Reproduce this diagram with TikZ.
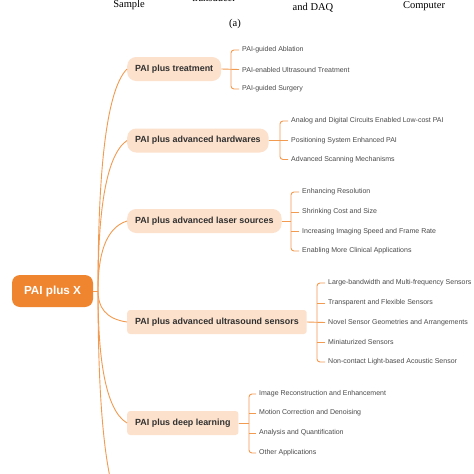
\documentclass[tikz,border=0pt]{standalone}
\usepackage{fontspec}
\setmainfont{Liberation Sans}
\newfontfamily\serifcap{Liberation Serif}
\definecolor{lineor}{HTML}{F29B50}
\definecolor{rootor}{HTML}{F0852F}
\definecolor{peach}{HTML}{FCE1CC}
\definecolor{topic}{HTML}{303030}
\definecolor{itemtx}{HTML}{4A4A4A}
\tikzset{
 rootbox/.style={fill=rootor, rounded corners=8pt, minimum width=81pt, minimum height=32pt, text=white, font=\fontsize{11.7}{13}\selectfont\bfseries, inner sep=0pt},
 topicbox/.style={fill=peach, rounded corners=9pt, minimum height=24pt, inner xsep=8pt, inner ysep=0pt, text=topic, font=\fontsize{8.9}{10}\selectfont\bfseries, anchor=west},
 squarish/.style={rounded corners=3pt},
 itemtext/.style={anchor=west, inner xsep=3pt, inner ysep=1pt, text=itemtx, font=\fontsize{7}{8}\selectfont},
 branch/.style={draw=lineor, line width=0.9pt},
 bracket/.style={draw=lineor, line width=0.9pt, rounded corners=3pt},
 capt/.style={font=\serifcap\fontsize{10.5}{12}\selectfont, text=black, inner sep=0pt, anchor=base},
}
\begin{document}
\begin{tikzpicture}[x=1pt,y=-1pt]
\useasboundingbox (0,0) rectangle (474,474);
\clip (0,0) rectangle (474,474);
\fill[white] (0,0) rectangle (474,474);
% caption remnants of the figure above
\node[capt] (c1) at (129,7) {Sample};
\node[capt] (c2) at (214,1.5) {transducer};
\node[capt] (c3) at (313,10) {and DAQ};
\node[capt] (c4) at (424,8.5) {Computer};
\node[capt] (c5) at (235,26.5) {(a)};
% root
\node[rootbox] (root) at (52.5,291) {PAI plus X};
\coordinate (hub) at (98,291);
% topics
\node[topicbox] (T) at (127,69) {PAI plus treatment};
\node[topicbox] (H) at (127,140.5) {PAI plus advanced hardwares};
\node[topicbox] (L) at (127,221) {PAI plus advanced laser sources};
\node[topicbox,squarish] (U) at (127,322) {PAI plus advanced ultrasound sensors};
\node[topicbox,squarish] (D) at (127,423) {PAI plus deep learning};
\coordinate (N) at (127,520);
% branches
\draw[branch] (root.east) -- (hub);
\draw[branch] (hub) .. controls (98,180) and (105,91.2) .. (T.west);
\draw[branch] (hub) .. controls (98,215.75) and (105,155.5) .. (H.west);
\draw[branch] (hub) .. controls (98,256) and (105,228) .. (L.west);
\draw[branch] (hub) .. controls (98,306.5) and (105,318.9) .. (U.west);
\draw[branch] (hub) .. controls (98,357) and (105,409.8) .. (D.west);
\draw[branch] (hub) .. controls (98,405.5) and (105,497) .. (N);
% treatment items
\node[itemtext] (T1) at (239,50) {PAI-guided Ablation};
\node[itemtext] (T2) at (239,69.5) {PAI-enabled Ultrasound Treatment};
\node[itemtext] (T3) at (239,89) {PAI-guided Surgery};
\draw[branch] (T.east) -- (T2.west);
\draw[bracket] (T1.west) -- (231,50) -- (231,89) -- (T3.west);
% hardware items
\node[itemtext] (H1) at (288,121) {Analog and Digital Circuits Enabled Low-cost PAI};
\node[itemtext] (H2) at (288,140.5) {Positioning System Enhanced PAI};
\node[itemtext] (H3) at (288,159.5) {Advanced Scanning Mechanisms};
\draw[branch] (H.east) -- (H2.west);
\draw[bracket] (H1.west) -- (280,121) -- (280,159.5) -- (H3.west);
% laser items
\node[itemtext] (L1) at (299,192) {Enhancing Resolution};
\node[itemtext] (L2) at (299,212) {Shrinking Cost and Size};
\node[itemtext] (L3) at (299,231.5) {Increasing Imaging Speed and Frame Rate};
\node[itemtext] (L4) at (299,251) {Enabling More Clinical Applications};
\draw[branch] (L.east) -- (291,221);
\draw[bracket] (L1.west) -- (291,192) -- (291,251) -- (L4.west);
\draw[branch] (291,212) -- (L2.west);
\draw[branch] (291,231.5) -- (L3.west);
% ultrasound items
\node[itemtext] (U1) at (325,283) {Large-bandwidth and Multi-frequency Sensors};
\node[itemtext] (U2) at (325,303) {Transparent and Flexible Sensors};
\node[itemtext] (U3) at (325,322.5) {Novel Sensor Geometries and Arrangements};
\node[itemtext] (U4) at (325,342) {Miniaturized Sensors};
\node[itemtext] (U5) at (325,362) {Non-contact Light-based Acoustic Sensor};
\draw[branch] (U.east) -- (U3.west);
\draw[bracket] (U1.west) -- (317,283) -- (317,362) -- (U5.west);
\draw[branch] (317,303) -- (U2.west);
\draw[branch] (317,342) -- (U4.west);
% deep learning items
\node[itemtext] (D1) at (256,394) {Image Reconstruction and Enhancement};
\node[itemtext] (D2) at (256,413) {Motion Correction and Denoising};
\node[itemtext] (D3) at (256,433) {Analysis and Quantification};
\node[itemtext] (D4) at (256,453) {Other Applications};
\draw[branch] (D.east) -- (249,423);
\draw[bracket] (D1.west) -- (249,394) -- (249,453) -- (D4.west);
\draw[branch] (249,413) -- (D2.west);
\draw[branch] (249,433) -- (D3.west);
\end{tikzpicture}
\end{document}
